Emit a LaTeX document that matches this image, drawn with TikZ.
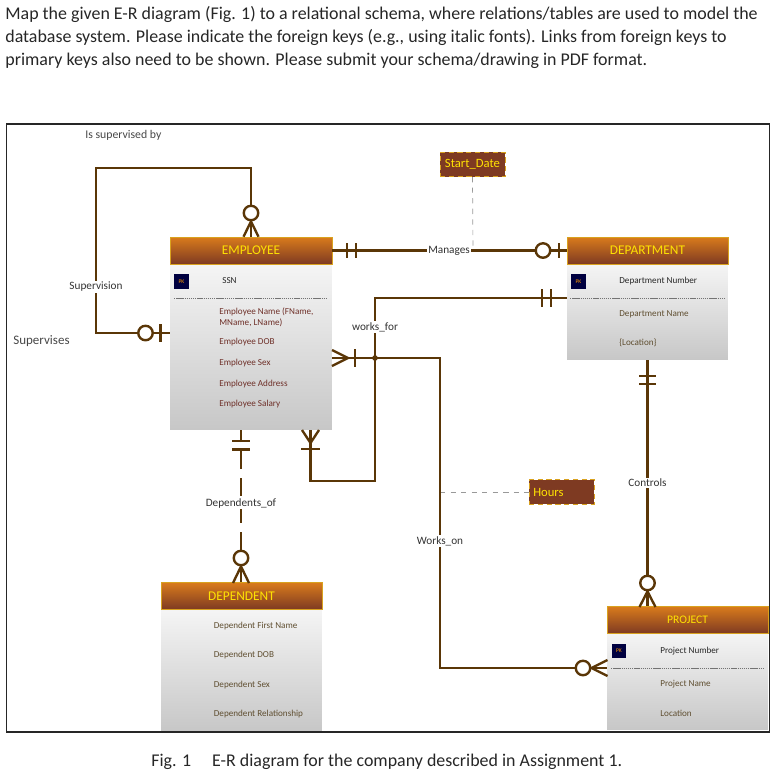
\documentclass[tikz,border=0pt]{standalone}
\usepackage{fontspec}
\setmainfont{Carlito}
\definecolor{relbrown}{HTML}{5A3607}
\definecolor{headtop}{HTML}{D97B1C}
\definecolor{headbot}{HTML}{7E3A22}
\definecolor{headedge}{HTML}{D9A21F}
\definecolor{attrred}{HTML}{6E2F28}
\definecolor{attrtan}{HTML}{5F4E30}
\tikzset{
  entityhead/.style={rectangle,inner sep=0pt,minimum height=.54cm,top color=headtop,bottom color=headbot,draw=headedge,line width=.3pt,text=yellow!85!orange,font=\fontsize{7.6}{9}\selectfont},
  entitybody/.style={rectangle,inner sep=0pt,top color=black!4,bottom color=black!22},
  pkbox/.style={rectangle,inner sep=0pt,minimum width=.29cm,minimum height=.29cm,fill=blue!25!black,text=orange!80!yellow,font=\fontsize{3.2}{3}\selectfont},
  attrtext/.style={anchor=west,inner sep=0pt,text=attrtan,font=\fontsize{5.2}{6.4}\selectfont},
  emptext/.style={attrtext,text=attrred},
  keytext/.style={attrtext,text=black!85},
  relline/.style={draw=relbrown,line width=1.35pt},
  optcircle/.style={circle,draw=relbrown,line width=1.35pt,fill=white,inner sep=0pt,minimum size=.29cm},
  rellabel/.style={fill=white,inner sep=.6pt,text=black!80,font=\fontsize{6.4}{7}\selectfont},
  attrbox/.style={rectangle,inner sep=0pt,minimum height=.49cm,fill=headbot,draw=headedge,densely dashed,line width=.4pt,text=yellow!85!orange,font=\fontsize{7.2}{9}\selectfont},
  linkdash/.style={draw=black!40,dashed,line width=.4pt},
  keysep/.style={draw=black!55,dash pattern=on .8pt off .4pt,line width=.5pt},
  sidetext/.style={inner sep=0pt,text=black!72}
}
\begin{document}
\begin{tikzpicture}[x=.02cm,y=-.02cm]
\useasboundingbox (0,0) rectangle (775,775);
\node[anchor=north west,inner sep=0pt,align=left,text=black!85,font=\fontsize{10.2}{13}\selectfont] (task) at (5,6) {Map the given E-R diagram (Fig. 1) to a relational schema, where relations/tables are used to model the\\database system. Please indicate the foreign keys (e.g., using italic fonts). Links from foreign keys to\\primary keys also need to be shown. Please submit your schema/drawing in PDF format.};
\draw[line width=.8pt,black!85] (6.5,124) rectangle (769.5,732);
\node[anchor=west,inner sep=0pt,font=\fontsize{10.2}{13}\selectfont,text=black!85] (caption) at (151,762) {Fig. 1\hspace{12pt}E-R diagram for the company described in Assignment 1.};
% entities
\node[entitybody,minimum width=3.24cm,minimum height=3.32cm] (employeebody) at (251,347) {};
\node[entityhead,minimum width=3.24cm] (employee) at (251,250.5) {EMPLOYEE};
\node[entitybody,minimum width=3.22cm,minimum height=1.92cm] (departmentbody) at (647.5,312) {};
\node[entityhead,minimum width=3.22cm] (department) at (647.5,250.5) {DEPARTMENT};
\node[entitybody,minimum width=3.22cm,minimum height=2.44cm] (dependentbody) at (241.5,670) {};
\node[entityhead,minimum width=3.22cm] (dependent) at (241.5,596) {DEPENDENT};
\node[entitybody,minimum width=3.22cm,minimum height=1.94cm] (projectbody) at (687.5,681) {};
\node[entityhead,minimum width=3.22cm,font=\fontsize{6.6}{9}\selectfont] (project) at (687.5,620) {PROJECT};
\node[attrbox,minimum width=1.3cm] (startdate) at (472.5,164.5) {Start\_Date};
\node[attrbox,minimum width=1.3cm,text width=1.13cm] (hours) at (561.5,492) {Hours};
% attributes
\node[pkbox] (emppk) at (181.5,281.5) {PK};
\node[keytext] (ssn) at (222,281) {SSN};
\draw[keysep] (174,298)--(327,298);
\node[emptext,align=left] (empname) at (219,317) {Employee Name (FName,\\MName, LName)};
\node[emptext] (empdob) at (219,342) {Employee DOB};
\node[emptext] (empsex) at (219,363) {Employee Sex};
\node[emptext] (empaddr) at (219,384) {Employee Address};
\node[emptext] (empsal) at (219,404) {Employee Salary};
\node[pkbox] (deptpk) at (578.5,281.5) {PK};
\node[keytext] (deptnum) at (619,281) {Department Number};
\draw[keysep] (570,298)--(724,298);
\node[attrtext] (deptname) at (619,314.5) {Department Name};
\node[attrtext] (deptloc) at (619,343) {\{Location\}};
\node[attrtext] (depfirst) at (213.5,626) {Dependent First Name};
\node[attrtext] (depdob) at (213.5,655) {Dependent DOB};
\node[attrtext] (depsex) at (213.5,685) {Dependent Sex};
\node[attrtext] (deprel) at (213.5,714) {Dependent Relationship};
\node[pkbox] (projpk) at (619,651) {PK};
\node[keytext] (projnum) at (660,651) {Project Number};
\draw[keysep] (611,668)--(764,668);
\node[attrtext] (projname) at (660,684) {Project Name};
\node[attrtext] (projloc) at (660,713) {Location};
% circles and corners
\node[optcircle] (selftop) at (251,213) {};
\node[optcircle] (selfleft) at (145.5,333) {};
\node[optcircle] (managesend) at (543,250.5) {};
\node[optcircle] (dependsend) at (241,558) {};
\node[optcircle] (controlsend) at (647.5,583) {};
\node[optcircle] (workson) at (583,668) {};
\coordinate (selfa) at (96,168);
\coordinate (selfb) at (170,333);
\coordinate (forstart) at (567,298);
\coordinate (foratop) at (375,298);
\coordinate (forb) at (375,481);
\coordinate (forc) at (310.5,481);
\coordinate (ford) at (310.5,430);
\coordinate (onstart) at (332,358);
\coordinate (ona) at (440,358);
\coordinate (onb) at (440,668);
\coordinate (hoursleg) at (440,492);
\coordinate (managesleg) at (473,250.5);
% relationships
\draw[relline] (selftop.north) |- (selfa) |- (selfleft.west);
\draw[relline] (selfleft.east)--(selfb);
\draw[relline] (160.5,324)--(160.5,342);
\draw[relline] (selftop.south)--(employee.north);
\draw[relline] (selftop.south)--([xshift=-.15cm]employee.north);
\draw[relline] (selftop.south)--([xshift=.15cm]employee.north);
\draw[linkdash] (startdate.south)--(managesleg);
\draw[linkdash] (hoursleg)--(hours.west);
\draw[relline] (employee.east)--(managesend.west);
\draw[relline] (managesend.east)--(department.west);
\draw[relline] (347,243)--(347,258);
\draw[relline] (356,243)--(356,258);
\draw[relline] (559,243)--(559,258);
\draw[relline] (forstart)--(foratop)--(forb)--(forc)--(ford);
\draw[relline] (542,289)--(542,307);
\draw[relline] (551,289)--(551,307);
\draw[relline] (302,430)--(310.5,443)--(319,430);
\draw[relline] (301,449)--(320,449);
\draw[relline] (onstart)--(ona)--(onb)--(workson.west);
\draw[relline] (332,350)--(348,358)--(332,366);
\draw[relline] (355,349)--(355,367);
\fill[relbrown] (375,358) circle (2.8);
\draw[relline] (workson.east)--(project.west |- workson);
\draw[relline] (workson.east)--(607.5,660);
\draw[relline] (workson.east)--(607.5,676);
\draw[relline,dash pattern=on 10.2pt off 5.1pt] (dependsend.north)--(employeebody.south -| dependsend);
\draw[relline] (232,441)--(250,441);
\draw[relline] (232,449.5)--(250,449.5);
\draw[relline] (dependsend.south)--(dependent.north -| dependsend);
\draw[relline] (dependsend.south)--(233,583);
\draw[relline] (dependsend.south)--(249,583);
\draw[relline] (departmentbody.south)--(controlsend.north);
\draw[relline] (639,376)--(656,376);
\draw[relline] (639,384)--(656,384);
\draw[relline] (controlsend.south)--(project.north -| controlsend);
\draw[relline] (controlsend.south)--(639.5,607);
\draw[relline] (controlsend.south)--(655.5,607);
% labels
\node[sidetext,anchor=west,font=\fontsize{6.7}{8}\selectfont] (issup) at (85,135) {Is supervised by};
\node[sidetext,anchor=west,font=\fontsize{7.4}{9}\selectfont] (supervises) at (13,341) {Supervises};
\node[rellabel] (supervision) at (96,287) {Supervision};
\node[rellabel] (manages) at (449,250.5) {Manages};
\node[rellabel] (worksfor) at (375,327) {works\_for};
\node[rellabel] (workslabel) at (440,541) {Works\_on};
\node[rellabel] (dependents) at (241,503) {Dependents\_of};
\node[rellabel] (controls) at (647.5,483) {Controls};
\end{tikzpicture}
\end{document}
